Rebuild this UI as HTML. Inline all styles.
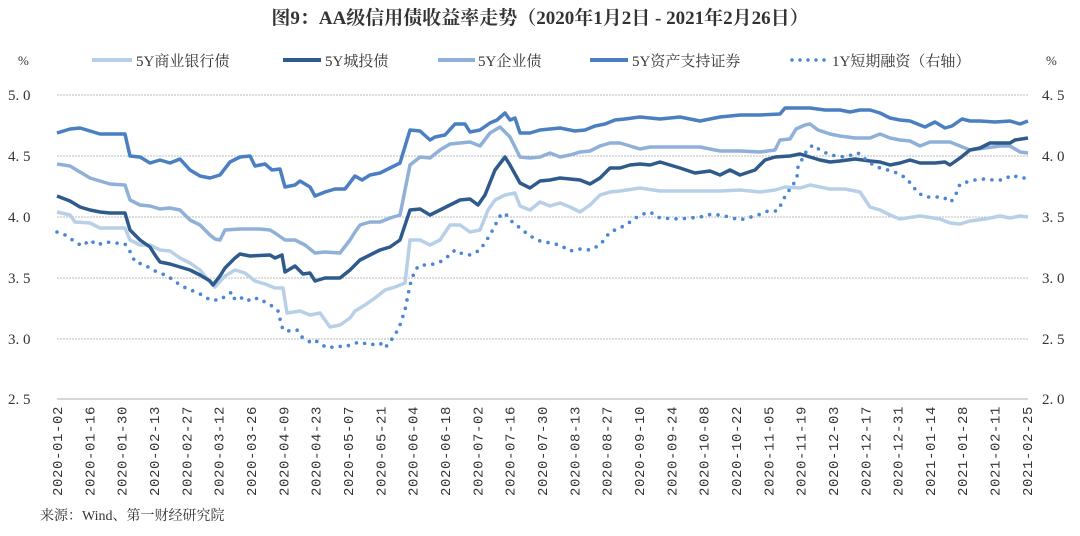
<!DOCTYPE html>
<html><head><meta charset="utf-8"><style>
body{margin:0;background:#fff;}
svg text{font-family:"Liberation Serif","Noto Serif CJK SC",serif;fill:#333;}
svg .xl text{font-family:"Liberation Mono",monospace;}
</style></head><body>
<svg width="1080" height="531" viewBox="0 0 1080 531" xmlns="http://www.w3.org/2000/svg">
<text x="540" y="24" text-anchor="middle" font-size="19" font-weight="bold" fill="#111">图9：AA级信用债收益率走势（2020年1月2日 - 2021年2月26日）</text>
<text x="18" y="65" font-size="13">%</text>
<text x="1046" y="65" font-size="13">%</text>
<g font-size="15">
<line x1="92" y1="60" x2="132" y2="60" stroke="#b8cfe8" stroke-width="4"/><text x="136" y="66">5Y商业银行债</text>
<line x1="283" y1="60" x2="321" y2="60" stroke="#2e5a8c" stroke-width="4"/><text x="325" y="66">5Y城投债</text>
<line x1="438" y1="60" x2="475" y2="60" stroke="#8fb0d8" stroke-width="4"/><text x="478" y="66">5Y企业债</text>
<line x1="590" y1="60" x2="628" y2="60" stroke="#4a7fc1" stroke-width="4"/><text x="632" y="66">5Y资产支持证券</text>
<line x1="792" y1="60" x2="828" y2="60" stroke="#4a86d4" stroke-width="3.5" stroke-linecap="round" stroke-dasharray="0 8"/><text x="832" y="66">1Y短期融资（右轴）</text>
</g>
<g stroke="#bbb" stroke-width="1" stroke-dasharray="2 1">
<line x1="57" y1="95" x2="1028" y2="95"/><line x1="57" y1="156" x2="1028" y2="156"/><line x1="57" y1="217" x2="1028" y2="217"/><line x1="57" y1="278" x2="1028" y2="278"/><line x1="57" y1="339" x2="1028" y2="339"/>
</g>
<line x1="57" y1="399" x2="1028" y2="399" stroke="#ccc" stroke-width="1.5"/>
<g font-size="15">
<text x="8" y="100">5. 0</text><text x="8" y="161">4. 5</text><text x="8" y="222">4. 0</text><text x="8" y="283">3. 5</text><text x="8" y="344">3. 0</text><text x="8" y="404">2. 5</text>
<text x="1042" y="100">4. 5</text><text x="1042" y="161">4. 0</text><text x="1042" y="222">3. 5</text><text x="1042" y="283">3. 0</text><text x="1042" y="344">2. 5</text><text x="1042" y="404">2. 0</text>
</g>
<g fill="none" stroke-linejoin="round" stroke-width="3.5">
<polyline stroke="#b8cfe8" points="57,212 70,215 75,222 90,223 100,228 125,228 130,240 140,245 150,245 160,250 170,251 180,258 190,263 200,270 210,282 215,287 225,276 235,270 245,273 255,281 265,284 275,288 283,288 287,313 300,311 310,315 320,313 330,327 340,325 350,318 355,311 365,305 375,298 385,290 395,287 405,283 410,240 420,240 430,245 440,240 450,225 460,225 470,232 480,230 488,210 495,200 505,195 515,193 520,206 530,210 540,202 550,206 560,203 570,207 580,212 590,205 600,195 610,192 620,191 640,188 660,191 700,191 720,191 740,190 760,192 775,190 785,187 800,188 810,185 820,187 830,189 845,189 860,192 870,207 880,210 890,215 900,219 920,216 940,219 950,223 960,224 970,221 985,219 1000,216 1010,218 1020,216 1028,217"/>
<polyline stroke="#8fb0d8" points="57,164 70,166 80,172 90,178 100,181 110,184 125,185 130,200 140,205 150,206 160,209 170,208 180,210 190,220 200,225 210,235 215,239 220,240 225,230 240,229 260,229 270,230 275,233 285,240 295,240 305,245 315,253 325,252 340,253 350,240 355,232 360,225 370,222 380,222 390,218 400,215 410,165 420,157 430,158 440,150 450,144 460,143 470,142 480,146 490,133 500,127 510,137 520,157 530,158 540,157 550,153 560,157 570,155 580,152 590,151 600,146 610,143 620,143 630,146 640,149 650,147 670,147 700,147 720,151 740,151 760,152 775,150 780,140 790,139 796,129 805,125 810,124 818,130 830,134 840,136 855,138 870,138 880,134 890,138 900,140 910,141 920,146 930,142 950,142 960,146 970,150 985,148 1000,146 1010,146 1020,152 1028,153"/>
<polyline stroke="#2e5a8c" points="57,196 70,201 80,207 90,210 100,212 110,213 125,213 130,230 140,240 150,247 155,255 160,262 170,264 180,267 190,270 200,275 210,281 213,285 220,276 225,268 235,258 240,254 250,256 270,255 275,258 282,255 285,272 295,266 303,274 310,273 315,281 325,278 340,278 350,270 360,260 370,255 380,250 390,247 400,240 410,210 420,209 430,215 440,210 450,205 460,200 470,199 478,205 485,195 495,170 505,157 510,165 520,183 530,188 540,181 550,180 560,178 570,179 580,180 590,184 600,178 610,168 620,168 630,165 640,164 650,165 660,162 680,168 695,173 710,171 720,175 730,170 740,175 755,170 765,160 775,157 790,156 800,154 810,157 820,160 830,162 840,161 855,159 870,161 880,162 890,165 900,163 910,160 920,163 935,163 945,162 950,165 960,158 970,150 980,148 990,143 1000,143 1010,143 1015,140 1028,138"/>
<polyline stroke="#4a7fc1" points="57,133 70,129 80,128 90,131 100,134 125,134 130,156 140,157 150,163 160,160 170,163 180,159 190,170 200,176 210,178 220,175 230,162 240,157 250,156 255,166 265,164 272,170 280,169 285,187 295,185 300,181 310,187 315,196 325,192 335,189 345,189 355,176 362,180 370,175 380,173 390,168 400,163 410,130 420,131 430,140 435,137 445,135 455,124 465,124 470,132 480,130 490,123 497,120 505,113 510,120 515,118 520,133 530,133 540,130 550,129 560,128 575,131 585,130 595,126 605,124 615,120 625,119 640,117 660,119 680,117 700,121 720,117 740,115 760,115 780,114 785,108 800,108 810,108 825,110 840,110 850,112 860,110 870,110 880,113 890,118 900,120 910,121 920,125 925,127 935,122 945,128 952,126 962,119 970,121 980,121 995,122 1010,121 1020,124 1028,121"/>
<polyline stroke="#4a86d4" stroke-width="3.6" stroke-linecap="round" stroke-dasharray="0 8.5" points="57,232 65,235 74,241 82,246 90,240 97,245 106,242 116,243 125,244 131,253 135,262 142,264 150,268 155,271 165,275 172,279 180,285 188,289 198,293 204,296 210,300 220,300 227,295 232,292 235,300 245,297 250,301 258,298 265,302 272,306 278,311 281,323 283,330 290,331 297,330 302,337 310,342 315,340 320,344 328,348 337,346 345,347 352,344 360,342 370,345 380,343 385,348 395,335 400,325 405,310 410,285 415,270 420,265 430,265 440,262 450,255 455,250 460,253 470,255 480,250 490,235 500,216 505,213 510,220 520,228 530,236 540,241 550,243 560,245 570,251 580,249 590,250 600,245 610,232 620,228 630,222 640,215 650,212 660,218 680,219 700,217 712,214 725,216 740,220 758,215 768,211 777,211 782,203 786,194 792,187 797,177 798,167 807,150 813,145 820,150 830,155 845,157 858,153 870,163 880,168 888,170 897,173 906,178 912,185 918,193 926,197 935,197 943,197 951,202 956,194 960,184 967,182 975,180 984,179 993,180 1003,180 1012,175 1020,178 1028,178"/>
</g>
<g class="xl" font-size="14" letter-spacing="0.6" text-anchor="end">
<text transform="translate(62,406) rotate(-90)">2020-01-02</text>
<text transform="translate(94.3,406) rotate(-90)">2020-01-16</text>
<text transform="translate(126.7,406) rotate(-90)">2020-01-30</text>
<text transform="translate(159,406) rotate(-90)">2020-02-13</text>
<text transform="translate(191.3,406) rotate(-90)">2020-02-27</text>
<text transform="translate(223.7,406) rotate(-90)">2020-03-12</text>
<text transform="translate(256,406) rotate(-90)">2020-03-26</text>
<text transform="translate(288.3,406) rotate(-90)">2020-04-09</text>
<text transform="translate(320.6,406) rotate(-90)">2020-04-23</text>
<text transform="translate(353,406) rotate(-90)">2020-05-07</text>
<text transform="translate(385.3,406) rotate(-90)">2020-05-21</text>
<text transform="translate(417.6,406) rotate(-90)">2020-06-04</text>
<text transform="translate(450,406) rotate(-90)">2020-06-18</text>
<text transform="translate(482.3,406) rotate(-90)">2020-07-02</text>
<text transform="translate(514.6,406) rotate(-90)">2020-07-16</text>
<text transform="translate(547,406) rotate(-90)">2020-07-30</text>
<text transform="translate(579.3,406) rotate(-90)">2020-08-13</text>
<text transform="translate(611.6,406) rotate(-90)">2020-08-27</text>
<text transform="translate(643.9,406) rotate(-90)">2020-09-10</text>
<text transform="translate(676.3,406) rotate(-90)">2020-09-24</text>
<text transform="translate(708.6,406) rotate(-90)">2020-10-08</text>
<text transform="translate(740.9,406) rotate(-90)">2020-10-22</text>
<text transform="translate(773.3,406) rotate(-90)">2020-11-05</text>
<text transform="translate(805.6,406) rotate(-90)">2020-11-19</text>
<text transform="translate(837.9,406) rotate(-90)">2020-12-03</text>
<text transform="translate(870.3,406) rotate(-90)">2020-12-17</text>
<text transform="translate(902.6,406) rotate(-90)">2020-12-31</text>
<text transform="translate(934.9,406) rotate(-90)">2021-01-14</text>
<text transform="translate(967.2,406) rotate(-90)">2021-01-28</text>
<text transform="translate(999.6,406) rotate(-90)">2021-02-11</text>
<text transform="translate(1031.9,406) rotate(-90)">2021-02-25</text>
</g>
<text x="40" y="520" font-size="14" fill="#222">来源：Wind、第一财经研究院</text>
</svg>
</body></html>
